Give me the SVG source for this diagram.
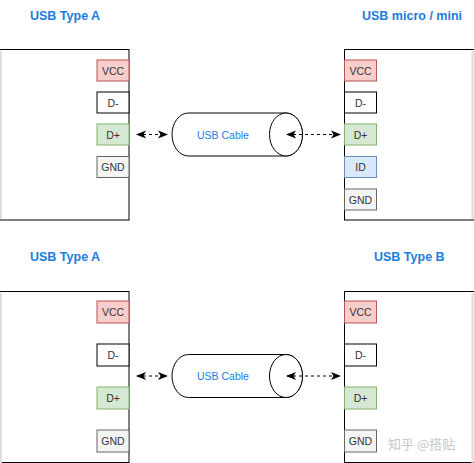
<svg xmlns="http://www.w3.org/2000/svg" width="474" height="463" viewBox="0 0 474 463">
<defs>
<style>
.hdr{font-family:"Liberation Sans",Arial,sans-serif;font-size:12.5px;font-weight:bold;fill:#1C7CE0}
.pin{font-family:"Liberation Sans",Arial,sans-serif;font-size:10.5px;fill:#333}
.cab{font-family:"Liberation Sans",Arial,sans-serif;font-size:10.5px;fill:#1C7CE0}
.box{fill:#fff;stroke:#000;stroke-width:1}
.vcc{fill:#f8cecc;stroke:#b85450}
.dm{fill:#fff;stroke:#000}
.dp{fill:#d5e8d4;stroke:#82b366}
.id{fill:#dae8fc;stroke:#6c8ebf}
.gnd{fill:#f5f5f5;stroke:#666}
.conn{stroke:#000;stroke-width:1;stroke-dasharray:3 3;fill:none}
.cyl{fill:#fff;stroke:#000;stroke-width:1}
.edge{stroke:#ddd;stroke-width:2}
.wm{font-family:"Noto Sans CJK SC",sans-serif;font-size:13px;fill:#c8c8c8}
</style>
<marker id="ah" viewBox="0 0 10 10" refX="9" refY="5" markerWidth="10" markerHeight="10" markerUnits="userSpaceOnUse" orient="auto-start-reverse">
<path d="M0,1 L10,5 L0,9 L2.5,5 Z" fill="#000"/>
</marker>
</defs>
<rect width="474" height="463" fill="#fff"/>

<g id="hdr-top-a"><text class="hdr" x="30" y="20">USB Type A</text></g>
<g id="hdr-top-micro"><text class="hdr" x="362" y="20">USB micro / mini</text></g>
<g id="hdr-bot-a"><text class="hdr" x="30" y="261">USB Type A</text></g>
<g id="hdr-bot-b"><text class="hdr" x="374" y="261">USB Type B</text></g>

<g id="top-left-box">
<rect class="box" x="-2" y="49.5" width="131" height="170.5"/>
<line class="edge" x1="1" y1="51" x2="1" y2="219"/>
<rect class="vcc" x="97" y="60" width="32" height="21"/><text class="pin" x="113" y="74.5" text-anchor="middle">VCC</text>
<rect class="dm" x="97" y="92" width="32" height="21"/><text class="pin" x="113" y="106.5" text-anchor="middle">D-</text>
<rect class="dp" x="97" y="124" width="32" height="21"/><text class="pin" x="113" y="138.5" text-anchor="middle">D+</text>
<rect class="gnd" x="97" y="156.5" width="32" height="21"/><text class="pin" x="113" y="171" text-anchor="middle">GND</text>
</g>

<g id="top-right-box">
<rect class="box" x="344.5" y="49.5" width="131" height="170.5"/>
<line class="edge" x1="472.5" y1="51" x2="472.5" y2="219"/>
<rect class="vcc" x="344.5" y="60" width="32" height="21"/><text class="pin" x="360.5" y="74.5" text-anchor="middle">VCC</text>
<rect class="dm" x="344.5" y="92" width="32" height="21"/><text class="pin" x="360.5" y="106.5" text-anchor="middle">D-</text>
<rect class="dp" x="344.5" y="124" width="32" height="21"/><text class="pin" x="360.5" y="138.5" text-anchor="middle">D+</text>
<rect class="id" x="344.5" y="156.5" width="32" height="21"/><text class="pin" x="360.5" y="171" text-anchor="middle">ID</text>
<rect class="gnd" x="344.5" y="189" width="32" height="21"/><text class="pin" x="360.5" y="203.5" text-anchor="middle">GND</text>
</g>

<g id="top-cable">
<path class="cyl" d="M188.5,113 L286,113 A16.5,21.5 0 0 1 286,156 L188.5,156 A16.5,21.5 0 0 1 188.5,113 Z"/>
<ellipse class="cyl" cx="286" cy="134.5" rx="16.5" ry="21.5"/>
<text class="cab" x="223" y="138.5" text-anchor="middle">USB Cable</text>
</g>

<g id="bot-left-box">
<rect class="box" x="-2" y="291.5" width="131" height="171"/>
<line class="edge" x1="1" y1="293" x2="1" y2="463"/>
<rect class="vcc" x="97" y="301" width="32" height="22"/><text class="pin" x="113" y="316" text-anchor="middle">VCC</text>
<rect class="dm" x="97" y="344" width="32" height="22"/><text class="pin" x="113" y="359" text-anchor="middle">D-</text>
<rect class="dp" x="97" y="387" width="32" height="22"/><text class="pin" x="113" y="402" text-anchor="middle">D+</text>
<rect class="gnd" x="97" y="430" width="32" height="22"/><text class="pin" x="113" y="445" text-anchor="middle">GND</text>
</g>

<g id="bot-right-box">
<rect class="box" x="344.5" y="291.5" width="131" height="171"/>
<line class="edge" x1="472.5" y1="293" x2="472.5" y2="463"/>
<rect class="vcc" x="344.5" y="301" width="32" height="22"/><text class="pin" x="360.5" y="316" text-anchor="middle">VCC</text>
<rect class="dm" x="344.5" y="344" width="32" height="22"/><text class="pin" x="360.5" y="359" text-anchor="middle">D-</text>
<rect class="dp" x="344.5" y="387" width="32" height="22"/><text class="pin" x="360.5" y="402" text-anchor="middle">D+</text>
<rect class="gnd" x="344.5" y="430" width="32" height="22"/><text class="pin" x="360.5" y="445" text-anchor="middle">GND</text>
</g>

<g id="bot-cable">
<path class="cyl" d="M188.5,354.5 L286,354.5 A16.5,21.5 0 0 1 286,397.5 L188.5,397.5 A16.5,21.5 0 0 1 188.5,354.5 Z"/>
<ellipse class="cyl" cx="286" cy="376" rx="16.5" ry="21.5"/>
<text class="cab" x="223" y="380" text-anchor="middle">USB Cable</text>
</g>

<g id="connectors">
<line class="conn" x1="137" y1="134.5" x2="167" y2="134.5" marker-start="url(#ah)" marker-end="url(#ah)"/>
<line class="conn" x1="287" y1="134.5" x2="340" y2="134.5" marker-start="url(#ah)" marker-end="url(#ah)"/>
<line class="conn" x1="137" y1="376" x2="167" y2="376" marker-start="url(#ah)" marker-end="url(#ah)"/>
<line class="conn" x1="287" y1="376" x2="340" y2="376" marker-start="url(#ah)" marker-end="url(#ah)"/>
</g>

<text class="wm" x="388" y="449">知乎 @搭贴</text>
</svg>
